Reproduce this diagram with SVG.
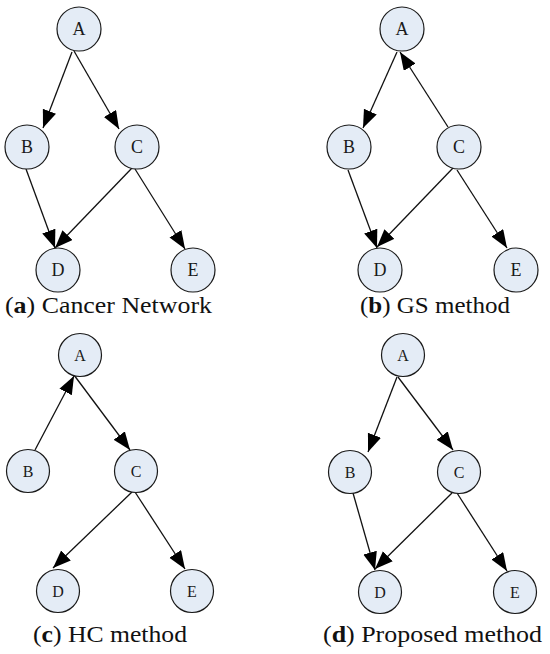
<svg xmlns="http://www.w3.org/2000/svg" width="550" height="654" viewBox="0 0 550 654">
<style>
.n circle{fill:#e4ecf6;stroke:#1a1a1a;stroke-width:1.2}
.n text{font-family:"Liberation Serif","Times New Roman",serif;font-size:18px;fill:#1a1a1a;text-anchor:middle}
.s text{font-size:16px}
.e line{stroke:#111;stroke-width:1.3;marker-end:url(#ah)}
.cap{font-family:"Liberation Serif","Times New Roman",serif;font-size:23px;fill:#111}
</style>
<defs>
<marker id="ah" markerUnits="userSpaceOnUse" markerWidth="20" markerHeight="16" refX="18" refY="7" orient="auto" viewBox="0 0 20 16">
<path d="M0,0 L18,7 L0,14 z" fill="#000"/>
</marker>
</defs>
<rect width="550" height="654" fill="#fff"/>

<g id="edges" class="e">
<!-- (a) -->
<line x1="72" y1="52" x2="43" y2="128"/>
<line x1="74" y1="51" x2="119" y2="129"/>
<line x1="26" y1="169" x2="55" y2="248"/>
<line x1="132" y1="168" x2="55" y2="248"/>
<line x1="135" y1="169" x2="185" y2="249"/>
<!-- (b) -->
<line x1="397" y1="52" x2="363" y2="128"/>
<line x1="448" y1="127" x2="400" y2="52"/>
<line x1="348" y1="170" x2="377" y2="248"/>
<line x1="453" y1="168" x2="377" y2="247"/>
<line x1="457" y1="170" x2="507" y2="248"/>
<!-- (c) -->
<line x1="35" y1="450" x2="74" y2="376"/>
<line x1="74" y1="375" x2="130" y2="450"/>
<line x1="132" y1="492" x2="53" y2="568"/>
<line x1="135" y1="492" x2="185" y2="569"/>
<!-- (d) -->
<line x1="397" y1="377" x2="368" y2="452"/>
<line x1="398" y1="377" x2="453" y2="450"/>
<line x1="353" y1="493" x2="375" y2="570"/>
<line x1="452" y1="493" x2="375" y2="569"/>
<line x1="457" y1="493" x2="507" y2="571"/>
</g>

<g id="a_A" class="n"><circle cx="79" cy="29" r="22"/><text x="79" y="35">A</text></g>
<g id="a_B" class="n"><circle cx="27" cy="147" r="22"/><text x="27" y="153">B</text></g>
<g id="a_C" class="n"><circle cx="137" cy="147" r="22"/><text x="137" y="153">C</text></g>
<g id="a_D" class="n"><circle cx="58" cy="270" r="22"/><text x="58" y="276">D</text></g>
<g id="a_E" class="n"><circle cx="193" cy="270" r="22"/><text x="193" y="276">E</text></g>

<g id="b_A" class="n"><circle cx="402" cy="29" r="22"/><text x="402" y="35">A</text></g>
<g id="b_B" class="n"><circle cx="349" cy="147" r="22"/><text x="349" y="153">B</text></g>
<g id="b_C" class="n"><circle cx="459" cy="147" r="22"/><text x="459" y="153">C</text></g>
<g id="b_D" class="n"><circle cx="380" cy="270" r="22"/><text x="380" y="276">D</text></g>
<g id="b_E" class="n"><circle cx="516" cy="270" r="22"/><text x="516" y="276">E</text></g>

<g id="c_A" class="n s"><circle cx="80" cy="355" r="21.5"/><text x="80" y="360.5">A</text></g>
<g id="c_B" class="n s"><circle cx="28" cy="471" r="21.5"/><text x="28" y="476.5">B</text></g>
<g id="c_C" class="n s"><circle cx="136" cy="471" r="21.5"/><text x="136" y="476.5">C</text></g>
<g id="c_D" class="n s"><circle cx="58" cy="591" r="21.5"/><text x="58" y="596.5">D</text></g>
<g id="c_E" class="n s"><circle cx="192" cy="591" r="21.5"/><text x="192" y="596.5">E</text></g>

<g id="d_A" class="n s"><circle cx="403" cy="355" r="21.5"/><text x="403" y="360.5">A</text></g>
<g id="d_B" class="n s"><circle cx="350" cy="472" r="21.5"/><text x="350" y="477.5">B</text></g>
<g id="d_C" class="n s"><circle cx="459" cy="472" r="21.5"/><text x="459" y="477.5">C</text></g>
<g id="d_D" class="n s"><circle cx="380" cy="592" r="21.5"/><text x="380" y="597.5">D</text></g>
<g id="d_E" class="n s"><circle cx="515" cy="592" r="21.5"/><text x="515" y="597.5">E</text></g>

<g id="captions">
<text class="cap" x="5" y="313" textLength="207" lengthAdjust="spacingAndGlyphs">(<tspan font-weight="bold">a</tspan>) Cancer Network</text>
<text class="cap" x="360" y="313" textLength="150" lengthAdjust="spacingAndGlyphs">(<tspan font-weight="bold">b</tspan>) GS method</text>
<text class="cap" x="33" y="642" textLength="154" lengthAdjust="spacingAndGlyphs">(<tspan font-weight="bold">c</tspan>) HC method</text>
<text class="cap" x="323" y="642" textLength="219" lengthAdjust="spacingAndGlyphs">(<tspan font-weight="bold">d</tspan>) Proposed method</text>
</g>
</svg>
